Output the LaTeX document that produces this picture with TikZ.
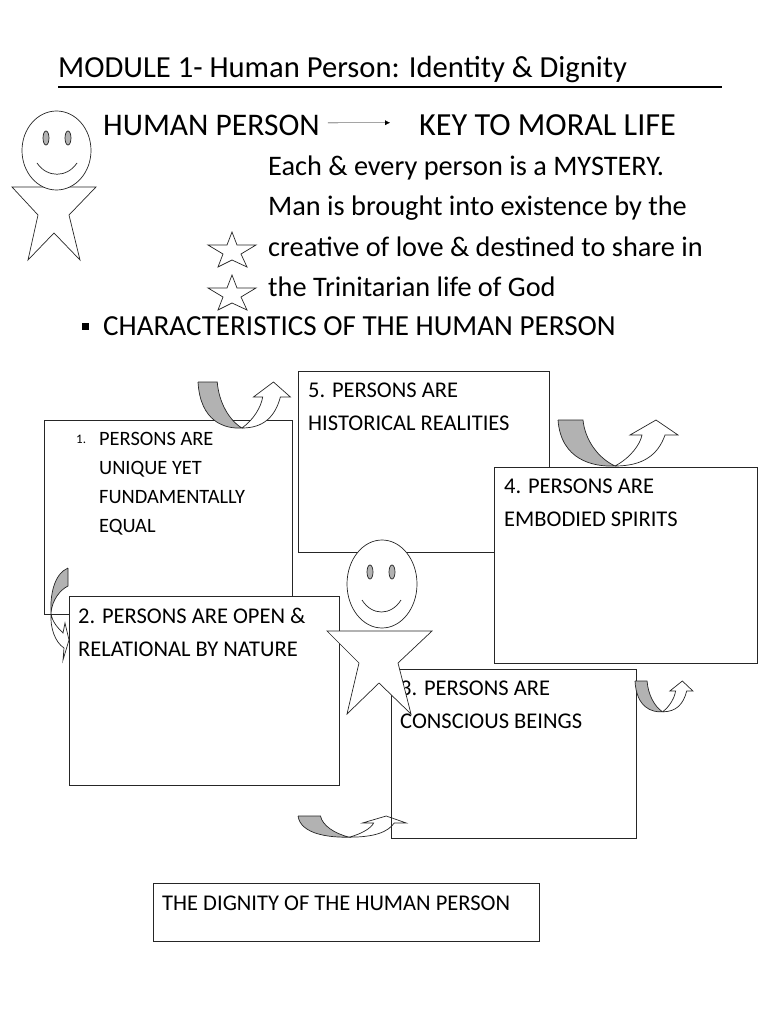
\documentclass[tikz,border=0pt]{standalone}
\usepackage{fontspec}
\setmainfont{Carlito}
\usetikzlibrary{arrows.meta}

\tikzset{
  line/.style={draw=black!85, line width=.7pt},
  panel/.style={line, anchor=north west, inner sep=0pt},
  bigtext/.style={anchor=base west, inner sep=0pt, font=\fontsize{31.5}{32}\selectfont},
  midtext/.style={anchor=base west, inner sep=0pt, font=\fontsize{28.3}{29}\selectfont},
  boxtext/.style={anchor=north west, inner sep=0pt, align=left, font=\fontsize{22.5}{33}\selectfont},
  eye/.style={line, fill=black!30},
}

% gray band that turns into a white arrow
\newcommand{\bentarrow}[4]{
\begin{scope}[shift={(#1,#2)},xscale=#3,yscale=#4]
\filldraw[line, fill=black!30] (0,0)--(25,0) .. controls (27,20) and (40,38) .. (57,46)
   .. controls (35,47) and (3,40) .. (0,0);
\filldraw[line, fill=white] (57,46) .. controls (72,38) and (82,25) .. (84,15)--(72,15)--(98,0)--(120,15)--(107,15)
   .. controls (100,35) and (85,46) .. (57,46);
\end{scope}
}

\begin{document}
\begin{tikzpicture}[x=1pt,y=-1pt]
\useasboundingbox (0,0) rectangle (768,1024);

% heading
\node[bigtext, font=\fontsize{30.6}{31}\selectfont] (title) at (58,78) {MODULE 1- Human Person: Identity \& Dignity};
\coordinate (ruleleft) at (58,87);
\coordinate (ruleright) at (722,87);
\draw[line width=1.2pt] (ruleleft)--(ruleright);

\node[bigtext] (human) at (103,136) {HUMAN PERSON};
\node[bigtext, font=\fontsize{32.2}{33}\selectfont] (key) at (419,136) {KEY TO MORAL LIFE};
\draw[-{Latex[length=5pt,width=5pt]}, line width=.3pt, shorten <=8pt, shorten >=29pt] ([yshift=3pt]human.east)--([yshift=3pt]key.west);

\node[midtext] (lineone) at (268,176) {Each \& every person is a MYSTERY.};
\node[midtext] (linetwo) at (268,216) {Man is brought into existence by the};
\node[midtext] (linethree) at (268,256) {creative of love \& destined to share in};
\node[midtext] (linefour) at (268,296) {the Trinitarian life of God};
\node[fill=black, inner sep=0pt, minimum size=7pt] (bullet) at (85.5,326) {};
\node[midtext, font=\fontsize{29.1}{30}\selectfont] (charact) at (103,335) {CHARACTERISTICS OF THE HUMAN PERSON};

% first person
\filldraw[line, fill=white] (12,187)--(38,215)--(28,260)--(54,233)--(80,260)--(69,215)--(96,187)--cycle;
\filldraw[line, fill=white] (56.5,150.5) ellipse (34.5 and 39.5);
\filldraw[eye] (46,138) ellipse (3 and 7);
\filldraw[eye] (68,138) ellipse (3 and 7);
\draw[line] (37,163) .. controls (47,178) and (67,178) .. (77,163);

% small stars
\foreach \y in {0,43}{
\draw[line, yshift=-\y pt] (232,232)--(237,245)--(256,245)--(241,254)--(247,267)--(232,260)--(218,267)--(223,254)--(208,245)--(227,245)--cycle;
}

% boxes
\node[panel, fill=white, minimum width=248pt, minimum height=194pt] (boxone) at (44,420) {};
\bentarrow{198}{382}{.77}{1}
\node[panel, fill=white, minimum width=251pt, minimum height=181pt] (boxfive) at (298,371) {};
\node[panel, fill=white, minimum width=263pt, minimum height=196pt] (boxfour) at (494,467) {};
\bentarrow{558}{420}{1}{1}
\node[panel, fill=white, minimum width=270pt, minimum height=189pt] (boxtwo) at (69,596) {};
\bentarrow{298}{816}{.9}{.46}
\node[panel, minimum width=245pt, minimum height=169pt] (boxthree) at (391,669) {};
\bentarrow{635}{681}{.483}{.67}
\node[panel, minimum width=386pt, minimum height=58pt] (boxsix) at (153,883) {};

% box texts
\node[anchor=base west, inner sep=0pt, font=\fontsize{13}{13}\selectfont] (numone) at (76,443) {1.};
\node[boxtext, font=\fontsize{20.4}{29}\selectfont] (textone) at (99,432) {PERSONS ARE\\UNIQUE YET\\FUNDAMENTALLY\\EQUAL};
\node[boxtext] (textfive) at (308,383) {5. PERSONS ARE\\HISTORICAL REALITIES};
\node[boxtext] (textfour) at (504,479) {4. PERSONS ARE\\EMBODIED SPIRITS};
\node[boxtext] (texttwo) at (78,608) {2. PERSONS ARE OPEN \&\\RELATIONAL BY NATURE};
\node[boxtext] (textthree) at (400,681) {3. PERSONS ARE\\CONSCIOUS BEINGS};
\node[boxtext] (textsix) at (162,896) {THE DIGNITY OF THE HUMAN PERSON};

% arrow on the left edge
\filldraw[line, fill=black!30] (68,568)--(68,586) .. controls (60,590) and (52,600) .. (51,613)
   .. controls (50,595) and (54,574) .. (68,568);
\draw[line] (51,613) .. controls (52,622) and (58,628) .. (63,633)--(65,623)--(69,640)--(63,660)--(64,648)
   .. controls (55,642) and (50,628) .. (51,613);

% second person
\filldraw[line, fill=white] (327,631)--(359,663)--(347,714)--(379,683)--(411,714)--(398,663)--(432,631)--cycle;
\filldraw[line, fill=white] (382,584) ellipse (35 and 44);
\filldraw[eye] (370,572) ellipse (3 and 7);
\filldraw[eye] (392,572) ellipse (3 and 7);
\draw[line] (362,600) .. controls (372,616) and (391,616) .. (401,600);

\end{tikzpicture}
\end{document}
